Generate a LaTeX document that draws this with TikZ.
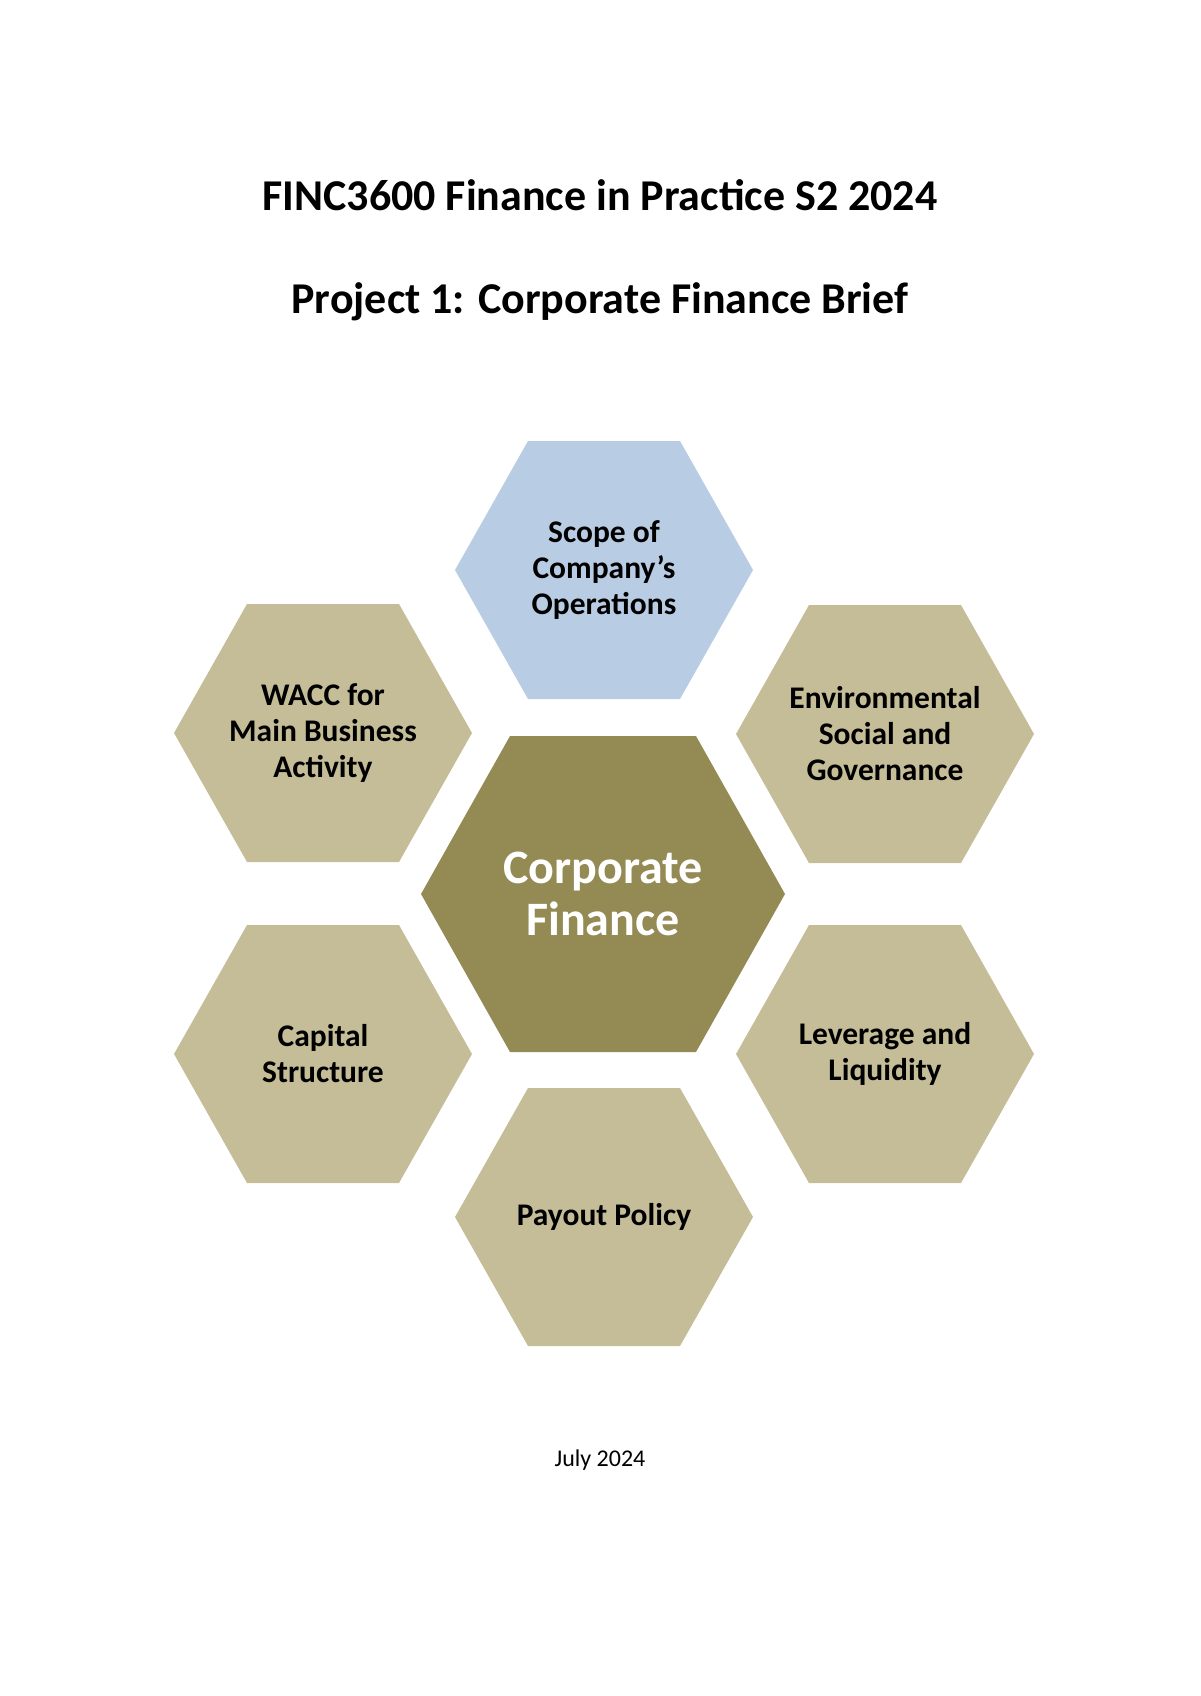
\documentclass[tikz,border=0pt]{standalone}
\usepackage{fontspec}
\setmainfont{Carlito}
\definecolor{hblue}{HTML}{B8CCE4}
\definecolor{htan}{HTML}{C4BD97}
\definecolor{holive}{HTML}{948A54}
\newcommand\hexa[6]{% x y halfw halfh halftop color
  \fill[#6] (#1-#3,#2) -- (#1-#5,#2-#4) -- (#1+#5,#2-#4) -- (#1+#3,#2) -- (#1+#5,#2+#4) -- (#1-#5,#2+#4) -- cycle;}
\begin{document}
\begin{tikzpicture}[x=1pt,y=-1pt,
  small/.style={align=center,font=\fontsize{31.5}{36}\selectfont\bfseries,text=black},
  big/.style={align=center,font=\fontsize{48}{52}\selectfont\bfseries,text=white}]
\useasboundingbox (0,0) rectangle (1200,1696);
\node[font=\fontsize{44}{50}\selectfont\bfseries] (t1) at (600,195) {FINC3600 Finance in Practice S2 2024};
\node[font=\fontsize{44}{50}\selectfont\bfseries] (t2) at (600,302) {Project 1: Corporate Finance Brief};
\hexa{604}{570}{149}{129}{76}{hblue}
\hexa{323}{733}{149}{129}{76}{htan}
\hexa{885}{734}{149}{129}{76}{htan}
\hexa{323}{1054}{149}{129}{76}{htan}
\hexa{885}{1054}{149}{129}{76}{htan}
\hexa{604}{1217}{149}{129}{76}{htan}
\hexa{603}{894}{182}{158}{93}{holive}
\node[small] (scope) at (604,570) {Scope of\\Company's\\Operations};
\node[small] (wacc) at (323,733) {WACC for\\Main Business\\Activity};
\node[small] (esg) at (885,734) {Environmental\\Social and\\Governance};
\node[small] (cap) at (323,1054) {Capital\\Structure};
\node[small] (lev) at (885,1054) {Leverage and\\Liquidity};
\node[small] (pay) at (604,1217) {Payout Policy};
\node[big] (cf) at (603,894) {Corporate\\Finance};
\node[font=\fontsize{24}{28}\selectfont] (date) at (600,1460) {July 2024};
\end{tikzpicture}
\end{document}
